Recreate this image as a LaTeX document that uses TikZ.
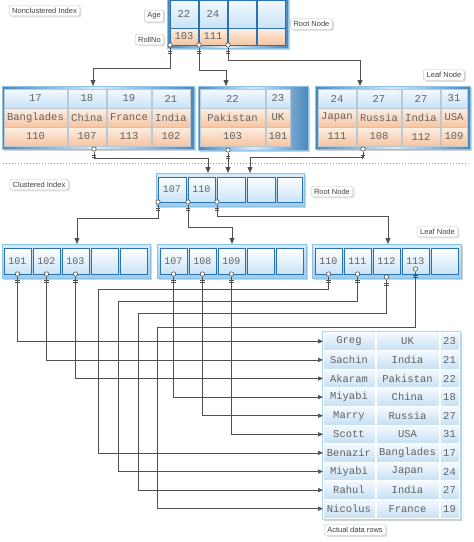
\documentclass[tikz,border=0pt]{standalone}
\usepackage{fontspec}
\newfontfamily\cellfont{Liberation Mono}
\newfontfamily\lblfont{Liberation Sans}
\usetikzlibrary{arrows.meta,shadows,decorations.markings}
\definecolor{txtgray}{HTML}{626262}
\definecolor{conngray}{HTML}{505050}
\definecolor{framebd}{HTML}{8CC2E6}
\definecolor{darkblue}{HTML}{2A73B0}
\definecolor{cellblue}{HTML}{C9E3F6}
\definecolor{paleblue}{HTML}{F3F9FE}
\definecolor{frtop}{HTML}{D7ECFA}
\definecolor{frbot}{HTML}{9FCCEC}
\definecolor{orangeA}{HTML}{FDEFE4}
\definecolor{orangeB}{HTML}{F6C4A0}
\definecolor{sepgray}{HTML}{B9C9D6}
\definecolor{dotblue}{HTML}{5A9FD6}
\definecolor{lblbd}{HTML}{C4C4C4}
\definecolor{dtop}{HTML}{F4FAFE}
\definecolor{dbot}{HTML}{C6E0F4}
\newcommand\mkcell[7]{\node[#7,minimum width={(#4)-(#2)},minimum height={(#5)-(#3)}] (#1) at ({((#2)+(#4))/2},{((#3)+(#5))/2}) {#6};}
\begin{document}
\begin{tikzpicture}[x=1pt,y=-1pt,
  basecell/.style={rectangle,inner sep=0pt,outer sep=0pt,text=txtgray,font=\cellfont\fontsize{10.5}{12}\selectfont},
  ncframe/.style={basecell,draw=framebd,line width=0.8pt,left color=darkblue!85,right color=darkblue!85,middle color=cellblue!70,drop shadow={opacity=0.35,shadow xshift=1.5pt,shadow yshift=-2pt}},
  clframe/.style={basecell,draw=framebd,line width=0.8pt,top color=frtop,bottom color=frbot,drop shadow={opacity=0.35,shadow xshift=1.5pt,shadow yshift=-2pt}},
  nctop/.style={basecell,draw=sepgray,line width=0.5pt,top color=paleblue,bottom color=cellblue},
  ncbot/.style={basecell,draw=sepgray,line width=0.5pt,top color=orangeA,bottom color=orangeB},
  rttop/.style={basecell,draw=darkblue,line width=0.9pt,top color=paleblue,bottom color=cellblue},
  rtbot/.style={basecell,draw=darkblue,line width=0.9pt,top color=orangeA,bottom color=orangeB},
  clcell/.style={basecell,draw=darkblue,line width=1pt,top color=white,bottom color=cellblue,font=\cellfont\fontsize{10}{12}\selectfont},
  datacell/.style={basecell,draw=white,line width=0.8pt,top color=dtop,bottom color=dbot},
  dframe/.style={basecell,draw=framebd!70,line width=0.6pt,fill=white,drop shadow={opacity=0.35,shadow xshift=2pt,shadow yshift=-2pt}},
  portc/.style={circle,draw=conngray,fill=white,line width=0.6pt,inner sep=0pt,minimum size=4.4pt},
  ftick/.style={postaction={decorate,decoration={markings,
      mark=at position 4pt with {\draw[conngray,line width=0.6pt,-] (0pt,-2.4pt) -- (0pt,2.4pt);},
      mark=at position 6.2pt with {\draw[conngray,line width=0.6pt,-] (0pt,-2.4pt) -- (0pt,2.4pt);}}}},
  conlink/.style={draw=conngray,line width=0.75pt,-{Triangle[length=6pt,width=5pt]},ftick},
  datalink/.style={draw=conngray,line width=0.7pt,-{Triangle[length=5pt,width=4.2pt]},ftick},
  lblbox/.style={draw=lblbd,fill=white,rounded corners=1.5pt,inner xsep=3pt,inner ysep=2.5pt,font=\lblfont\fontsize{7.5}{9}\selectfont,text=black!75,drop shadow={opacity=0.25,shadow xshift=1.5pt,shadow yshift=-1.5pt}}]
\useasboundingbox (0,0) rectangle (474,542);
\fill[white] (0,0) rectangle (474,542);

% ---------- Nonclustered index ----------
\node[lblbox] (lnc) at (44.5,10.5) {Nonclustered Index};
\mkcell{ncroot}{167}{-4}{288}{48}{}{ncframe}
\foreach \xa/\xb/\t/\b [count=\k] in {170/198/22/103, 199/227/24/111, 228/256//, 257/285//}{
  \mkcell{rt\k}{\xa}{0}{\xb}{28}{\t}{rttop}
  \mkcell{rb\k}{\xa}{28}{\xb}{45}{\b}{rtbot}
}
\node[lblbox] (lage) at (154,16) {Age};
\node[lblbox] (lroll) at (149.5,39.5) {RollNo};
\node[lblbox] (lroot1) at (311.5,24) {Root Node};
\node[lblbox] (lleaf1) at (444,75) {Leaf Node};

\mkcell{ncl1}{2}{86}{194}{149}{}{ncframe}
\foreach \xa/\xb/\t/\m/\b [count=\k] in {4/67/17/Banglades/110, 68/106/18/China/107, 107/151/19/France/113, 152/190/21/India/102}{
  \mkcell{la\k}{\xa}{89}{\xb}{108}{\t}{nctop}
  \mkcell{lm\k}{\xa}{108}{\xb}{127}{\m}{ncbot}
  \mkcell{lb\k}{\xa}{127}{\xb}{146}{\b}{ncbot}
}
\mkcell{ncl2}{198}{86}{308}{150}{}{ncframe}
\foreach \xa/\xb/\t/\m/\b [count=\k] in {200/265/22/Pakistan/103, 266/290/23/UK/101}{
  \mkcell{ma\k}{\xa}{89}{\xb}{108}{\t}{nctop}
  \mkcell{mm\k}{\xa}{108}{\xb}{127}{\m}{ncbot}
  \mkcell{mb\k}{\xa}{127}{\xb}{146}{\b}{ncbot}
}
\mkcell{ncl3}{315}{86}{470}{149}{}{ncframe}
\foreach \xa/\xb/\t/\m/\b [count=\k] in {318/356/24/Japan/111, 357/401/27/Russia/108, 402/440/27/India/112, 441/467/31/USA/109}{
  \mkcell{ra\k}{\xa}{89}{\xb}{108}{\t}{nctop}
  \mkcell{rm\k}{\xa}{108}{\xb}{127}{\m}{ncbot}
  \mkcell{rbb\k}{\xa}{127}{\xb}{146}{\b}{ncbot}
}

% root -> leaves
\node[portc] (pA) at (rb1.south west) {};
\node[portc] (pB) at (rb2.south west) {};
\node[portc] (pC) at (rb3.south west) {};
\draw[conlink] (pA.south) |- (93,68) -- (93,0 |- ncl1.north);
\draw[conlink] (pB.south) |- (226,70) -- (226,0 |- ncl2.north);
\draw[conlink] (pC.south) |- (360,60) -- (360,0 |- ncl3.north);

% separator
\draw[dotblue,dotted,line width=1pt] (3,163) -- (466,163);

% ---------- Clustered index ----------
\node[lblbox] (lci) at (39,184.5) {Clustered Index};
\mkcell{clroot}{156}{173}{304}{206}{}{clframe}
\foreach \xa/\xb/\t [count=\k] in {158/186/107, 188/215/110, 217/245/, 247/275/, 277/302/}{
  \mkcell{cr\k}{\xa}{177}{\xb}{202}{\t}{clcell}
}
\node[lblbox] (lroot2) at (332,191.5) {Root Node};
\node[lblbox] (lleaf2) at (437.5,231.5) {Leaf Node};

% nonclustered leaves -> clustered root
\node[portc] (pD) at (94,0 |- ncl1.south) {};
\node[portc] (pE) at (228,0 |- ncl2.south) {};
\node[portc] (pF) at (363,0 |- ncl3.south) {};
\draw[conlink] (pD.south) |- (208,158) -- (208,0 |- clroot.north);
\draw[conlink] (pE.south) -- (pE.south |- clroot.north);
\draw[conlink] (pF.south) |- (250,157) -- (250,0 |- clroot.north);

\mkcell{cll1}{2}{244}{150}{278}{}{clframe}
\mkcell{cll2}{157}{244}{306}{278}{}{clframe}
\mkcell{cll3}{312}{244}{461}{278}{}{clframe}
\foreach \xa/\xb/\t [count=\k] in {4/31/101, 33/60/102, 62/89/103, 91/118/, 120/147/}{
  \mkcell{ca\k}{\xa}{248}{\xb}{274}{\t}{clcell}
}
\foreach \xa/\xb/\t [count=\k] in {160/187/107, 189/216/108, 218/245/109, 247/274/, 276/303/}{
  \mkcell{cb\k}{\xa}{248}{\xb}{274}{\t}{clcell}
}
\foreach \xa/\xb/\t [count=\k] in {315/342/110, 344/371/111, 373/400/112, 402/429/113, 431/458/}{
  \mkcell{cc\k}{\xa}{248}{\xb}{274}{\t}{clcell}
}

% clustered root -> leaves
\node[portc] (pG) at (cr1.south west) {};
\node[portc] (pH) at (cr2.south west) {};
\node[portc] (pI) at (cr3.south west) {};
\draw[conlink] (pG.south) |- (77,218) -- (77,0 |- cll1.north);
\draw[conlink] (pH.south) |- (232,227) -- (232,0 |- cll2.north);
\draw[conlink] (pI.south) |- (388,216) -- (388,0 |- cll3.north);

% ---------- Data rows ----------
\mkcell{dtab}{322}{331}{460}{519}{}{dframe}
\foreach \n/\c/\a [count=\k from 0] in {Greg/UK/23, Sachin/India/21, Akaram/Pakistan/22, Miyabi/China/18, Marry/Russia/27, Scott/USA/31, Benazir/Banglades/17, Miyabi/Japan/24, Rahul/India/27, Nicolus/France/19}{
  \pgfmathsetmacro\yt{332+18.6*\k}
  \pgfmathsetmacro\yb{\yt+18.6}
  \mkcell{dn\k}{323}{\yt}{375}{\yb}{\n}{datacell}
  \mkcell{dc\k}{376}{\yt}{439}{\yb}{\c}{datacell}
  \mkcell{da\k}{440}{\yt}{459}{\yb}{\a}{datacell}
}
\node[lblbox] (ladr) at (355,530) {Actual data rows};

% clustered leaves -> data rows
\node[portc] (q101) at (ca1.south) {};
\node[portc] (q102) at (ca2.south) {};
\node[portc] (q103) at (ca3.south) {};
\node[portc] (q107) at (cb1.south) {};
\node[portc] (q108) at (cb2.south) {};
\node[portc] (q109) at (cb3.south) {};
\node[portc] (q110) at (cc1.south) {};
\node[portc] (q111) at (cc2.south) {};
\node[portc] (q112) at ([yshift=-3pt]cc3.south) {};
\node[portc] (q113) at ([yshift=5pt]cc4.south) {};
\draw[datalink] (q101.south) |- (dn0.west);
\draw[datalink] (q102.south) |- (dn1.west);
\draw[datalink] (q103.south) |- (dn2.west);
\draw[datalink] (q107.south) |- (dn3.west);
\draw[datalink] (q108.south) |- (dn4.west);
\draw[datalink] (q109.south) |- (dn5.west);
\draw[datalink] (q110.south) |- (98,289) |- (dn6.west);
\draw[datalink] (q111.south) |- (118,301) |- (dn7.west);
\draw[datalink] (q112.south) |- (138,313) |- (dn8.west);
\draw[datalink] (q113.south) |- (157,327) |- (dn9.west);
\end{tikzpicture}
\end{document}
